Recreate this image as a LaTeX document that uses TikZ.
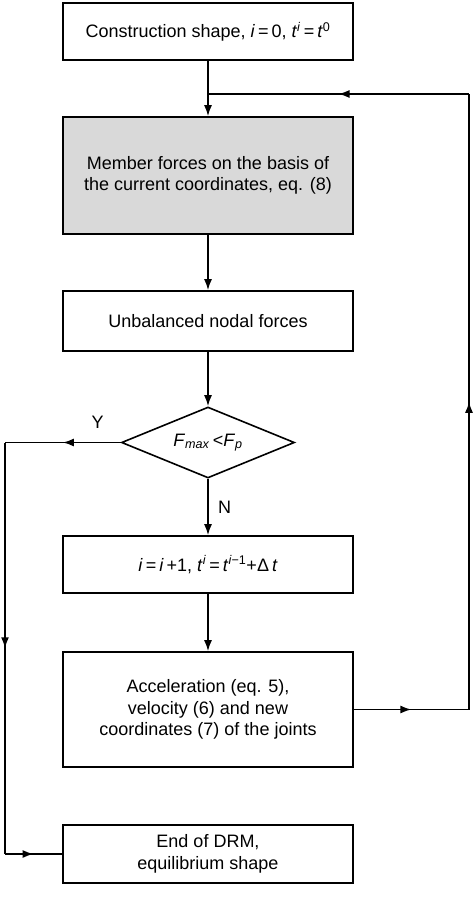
\documentclass[tikz,border=0pt]{standalone}
\usepackage{fontspec}
\setmainfont{Liberation Sans}
\usetikzlibrary{shapes.geometric,arrows.meta,decorations.markings}
\definecolor{boxgray}{RGB}{217,217,217}
\newcommand{\iv}{\textit{i}}
\newcommand{\tv}{\textit{t}}
\tikzset{
  flow/.style={line width=1.6pt},
  stepbox/.style={draw, flow, minimum width=290pt, align=center, inner sep=0pt,
    font=\fontsize{18}{21.5}\selectfont},
  testbox/.style={draw, flow, diamond, shape aspect=2.44, inner sep=0pt,
    minimum width=173pt, minimum height=71pt, font=\fontsize{18}{21.5}\selectfont},
  midarrow/.style={postaction={decorate}, decoration={markings,
    mark=at position 0.5 with {\arrow{Latex[length=11pt,width=8pt]}}}},
  tip/.style={-{Latex[length=11pt,width=8pt]}},
  lbl/.style={font=\fontsize{18}{21.5}\selectfont},
}
\begin{document}
\begin{tikzpicture}[x=1pt,y=-1pt]
  \useasboundingbox (0,0) rectangle (474,912);
  % Boxes
  \node[stepbox, minimum height=57pt] (con) at (208,31.5)
    {Construction shape, \iv\,=\,0, \tv\textsuperscript{\iv}\,=\,\tv\textsuperscript{0}};
  \node[stepbox, fill=boxgray, minimum height=117pt] (forces) at (208,175.5)
    {Member forces on the basis of\\the current coordinates, eq. (8)};
  \node[stepbox, minimum height=60pt] (unbal) at (208,321)
    {Unbalanced nodal forces};
  \node[testbox] (test) at (208,442.5)
    {\textit{F}\textsubscript{\textit{max}}\,<\textit{F}\textsubscript{\textit{p}}};
  \node[stepbox, minimum height=57pt] (incr) at (208,564.5)
    {\iv\,=\,\iv\,+1, \tv\textsuperscript{\iv}\,=\,\tv\textsuperscript{\iv−1}+Δ\,\tv};
  \node[stepbox, minimum height=115pt] (accel) at (208,709.5)
    {Acceleration (eq. 5),\\velocity (6) and new\\coordinates (7) of the joints};
  \node[stepbox, minimum height=58pt] (endd) at (208,854)
    {End of DRM,\\equilibrium shape};
  % Corners
  \coordinate (join) at (208,94);
  \coordinate (rbot) at (469,709.5);
  \coordinate (rtop) at (469,94);
  \coordinate (ltop) at (5,442.5);
  \coordinate (lbot) at (5,854);
  % Main line
  \draw[flow] (con) -- (join);
  \draw[flow, tip] (join) -- (forces.north);
  \draw[flow, tip] (forces) -- (unbal);
  \draw[flow, tip] (unbal) -- (test.north);
  \draw[flow, tip] (test.south) -- node[lbl, right=6pt] {N} (incr.north);
  \draw[flow, tip] (incr) -- (accel);
  % Loop back
  \draw[flow, midarrow] (accel.east) -- (rbot);
  \draw[flow, midarrow] (rbot) -- (rtop);
  \draw[flow, midarrow] (rtop) -- (join);
  % Exit
  \draw[flow, midarrow] (test.west) -- node[lbl, pos=0.2, above=10pt] {Y} (ltop);
  \draw[flow, midarrow] (ltop) -- (lbot);
  \draw[flow, midarrow] (lbot) -- (endd.west);
\end{tikzpicture}
\end{document}
